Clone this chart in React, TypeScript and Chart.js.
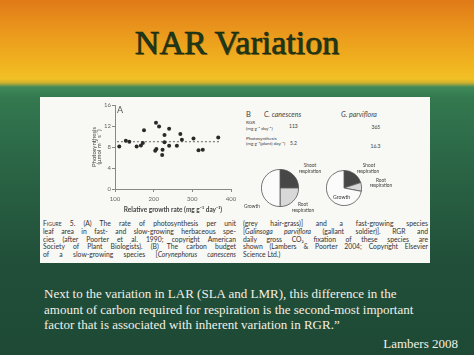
import React, { useEffect, useRef } from 'react';
import { Chart, registerables } from 'chart.js';

Chart.register(...registerables);

// ---- Panel A data ----
const rgrValues = [111, 128, 137, 156, 167, 172, 175, 204, 207, 206, 214, 223, 222, 228, 228, 240, 240, 260, 269, 273, 303, 316, 327, 367];
const photosynthesisValues = [8.1, 9.2, 9.0, 8.1, 8.3, 8.75, 11.2, 7.3, 7.6, 12.6, 11.9, 7.5, 6.5, 10.3, 8.9, 11.5, 8.25, 8.25, 10.5, 9.4, 9.6, 7.4, 7.5, 9.8];
const meanLineX = [105, 370];
const meanLineY = [9, 9];
const xTicks = [100, 200, 300, 400];
const yTicks = [0, 4, 8, 12, 16];

// ---- Panel B data ----
const pieLabels = ['Shoot respiration', 'Root respiration', 'Growth'];
const canescensBudget = [25, 25, 50];
const parvifloraBudget = [20, 8, 72];
const speciesNames = ['C. canescens', 'G. parviflora'];
const speciesRGR = ['113', '365'];
const speciesPhoto = ['5.2', '16.3'];

const SANS = 'Lato, "Open Sans", sans-serif';
const SERIF = '"Liberation Serif", serif';

function ScatterA() {
  const ref = useRef<HTMLCanvasElement>(null);
  useEffect(() => {
    const chart = new Chart(ref.current!, {
      type: 'scatter',
      data: {
        datasets: [
          {
            data: rgrValues.map((x, i) => ({ x, y: photosynthesisValues[i] })),
            backgroundColor: '#2a2a2a',
            borderColor: '#2a2a2a',
            pointRadius: 2,
            pointBorderWidth: 0,
          },
          {
            data: meanLineX.map((x, i) => ({ x, y: meanLineY[i] })),
            showLine: true,
            borderColor: '#555',
            borderWidth: 0.9,
            borderDash: [2, 2],
            pointRadius: 0,
          } as any,
        ],
      },
      options: {
        animation: false,
        responsive: false,
        devicePixelRatio: 1,
        plugins: { legend: { display: false }, tooltip: { enabled: false } },
        layout: { padding: { left: 0, right: 13, top: 7, bottom: 0 } },
        scales: {
          x: {
            type: 'linear',
            min: 100,
            max: 400,
            afterBuildTicks: (s: any) => { s.ticks = xTicks.map((v) => ({ value: v })); },
            ticks: { font: { size: 6, family: SANS }, color: '#666', padding: 3, maxRotation: 0 },
            grid: { drawOnChartArea: false, tickLength: 3, color: '#888' },
            border: { color: '#888' },
            title: {
              display: true,
              text: 'Relative growth rate (mg g⁻¹ day⁻¹)',
              font: { size: 6.5, weight: 'bold', family: SANS },
              color: '#444',
              padding: { top: 0, bottom: 2 },
            },
            afterFit: (s: any) => { s.height = 27; },
          },
          y: {
            type: 'linear',
            min: 0,
            max: 16,
            afterBuildTicks: (s: any) => { s.ticks = yTicks.map((v) => ({ value: v })); },
            ticks: { font: { size: 6, family: SANS }, color: '#666', padding: 1 },
            grid: { drawOnChartArea: false, tickLength: 3, color: '#888' },
            border: { color: '#888' },
            title: {
              display: true,
              text: ['Photosynthesis', '(μmol m⁻² s⁻¹)'],
              font: { size: 6, family: SANS, lineHeight: 0.9 },
              color: '#444',
              padding: { top: 7, bottom: 0 },
            },
            afterFit: (s: any) => { s.width = 31; },
          },
        },
      },
    });
    return () => chart.destroy();
  }, []);
  return <canvas ref={ref} width={160} height={118} style={{ position: 'absolute', left: 84, top: 98 }} />;
}

function BudgetPie({ data, size, left, top }: { data: number[]; size: number; left: number; top: number }) {
  const ref = useRef<HTMLCanvasElement>(null);
  useEffect(() => {
    const chart = new Chart(ref.current!, {
      type: 'pie',
      data: {
        labels: pieLabels,
        datasets: [
          {
            data,
            backgroundColor: ['#474747', '#d8d8d8', '#fbfbfb'],
            borderColor: '#555',
            borderWidth: 0.8,
          },
        ],
      },
      options: {
        animation: false,
        responsive: false,
        devicePixelRatio: 1,
        plugins: { legend: { display: false }, tooltip: { enabled: false } },
        layout: { padding: 0 },
      },
    });
    return () => chart.destroy();
  }, []);
  return <canvas ref={ref} width={size} height={size} style={{ position: 'absolute', left, top }} />;
}

function Txt({ x, cy, size, children, style, right }: any) {
  const s: React.CSSProperties = {
    position: 'absolute',
    top: cy - size * 0.6,
    fontSize: size,
    lineHeight: `${size * 1.2}px`,
    whiteSpace: 'nowrap',
    fontFamily: SANS,
    color: '#3a3a3a',
    ...style,
  };
  if (right !== undefined) s.right = 474 - right;
  else s.left = x;
  return <div style={s}>{children}</div>;
}

const leftCaption = [
  <><span style={{ fontVariant: 'small-caps' }}>Figure</span> 5. (A) The rate of photosynthesis per unit</>,
  <>leaf area in fast- and slow-growing herbaceous spe-</>,
  <>cies (after Poorter et al. 1990; copyright American</>,
  <>Society of Plant Biologists). (B) The carbon budget</>,
  <>of a slow-growing species [<i>Corynephorus canescens</i></>,
];
const rightCaption = [
  <>(grey hair-grass)] and a fast-growing species</>,
  <>[<i>Galinsoga parviflora</i> (gallant soldier)]. RGR and</>,
  <>daily gross CO₂ fixation of these species are</>,
  <>shown (Lambers &amp; Poorter 2004; Copyright Elsevier</>,
  <>Science Ltd.)</>,
];
const captionY = [223.3, 231, 238.8, 246.6, 254.3];

export default function App() {
  useEffect(() => {
    document.body.style.margin = '0';
  }, []);
  return (
    <div
      style={{
        position: 'fixed',
        left: 0,
        top: 0,
        width: 474,
        height: 355,
        overflow: 'hidden',
        background:
          'linear-gradient(to bottom, #e07a18 0px, #ea961c 30px, #f0b21f 62px, #f2c026 79px, #c9b030 83px, #3f8a58 87px, #33784f 98px, #2a6445 170px, #214f39 260px, #1e4a35 355px)',
      }}
    >
      {/* Title */}
      <div
        style={{
          position: 'absolute',
          left: 0,
          width: 474,
          top: 26,
          textAlign: 'center',
          fontFamily: SERIF,
          fontSize: 34,
          lineHeight: '34px',
          color: '#1d3a1c',
          WebkitTextStroke: '0.6px #14260f',
          textShadow: '1px 1px 0 rgba(110,80,10,0.7)',
        } as any}
      >
        NAR Variation
      </div>

      {/* Figure panel */}
      <div style={{ position: 'absolute', left: 40, top: 97, width: 390, height: 166, background: '#f8f8f5' }} />

      <ScatterA />
      <Txt x={117} cy={110} size={9} style={{ color: '#555' }}>A</Txt>

      {/* Panel B header and table */}
      <Txt x={246} cy={114} size={7.5} style={{ color: '#444' }}>B</Txt>
      <Txt x={264} cy={114} size={7} style={{ fontStyle: 'italic', color: '#444' }}>{speciesNames[0]}</Txt>
      <Txt x={341} cy={114} size={7} style={{ fontStyle: 'italic', color: '#444' }}>{speciesNames[1]}</Txt>
      <Txt x={246} cy={122.5} size={4.6}>RGR</Txt>
      <Txt x={246} cy={128.3} size={4.6}>(mg g⁻¹ day⁻¹)</Txt>
      <Txt x={289} cy={125.7} size={5}>{speciesRGR[0]}</Txt>
      <Txt x={371.5} cy={127} size={5}>{speciesRGR[1]}</Txt>
      <Txt x={246} cy={138.3} size={4.6}>Photosynthesis</Txt>
      <Txt x={246} cy={144} size={4.6}>(mg g⁻¹(plant) day⁻¹)</Txt>
      <Txt x={290} cy={143.3} size={5}>{speciesPhoto[0]}</Txt>
      <Txt x={370.5} cy={145.7} size={5}>{speciesPhoto[1]}</Txt>

      <BudgetPie data={canescensBudget} size={38} left={261} top={169} />
      <BudgetPie data={parvifloraBudget} size={36} left={326} top={170} />

      {/* Pie labels */}
      <Txt x={298} cy={165.7} size={4.8} style={{ width: 24, textAlign: 'center' }}>Shoot</Txt>
      <Txt x={298} cy={171.8} size={4.8} style={{ width: 24, textAlign: 'center' }}>respiration</Txt>
      <Txt x={291} cy={205} size={4.8} style={{ width: 24, textAlign: 'center' }}>Root</Txt>
      <Txt x={291} cy={210.8} size={4.8} style={{ width: 24, textAlign: 'center' }}>respiration</Txt>
      <Txt x={244} cy={207} size={4.8}>{pieLabels[2]}</Txt>
      <Txt x={357} cy={165.7} size={4.8} style={{ width: 24, textAlign: 'center' }}>Shoot</Txt>
      <Txt x={356} cy={171.8} size={4.8} style={{ width: 24, textAlign: 'center' }}>respiration</Txt>
      <Txt x={369} cy={180.5} size={4.8} style={{ width: 24, textAlign: 'center' }}>Root</Txt>
      <Txt x={369} cy={186} size={4.8} style={{ width: 24, textAlign: 'center' }}>respiration</Txt>
      <Txt x={333} cy={196.7} size={5.2} style={{ color: '#333' }}>{pieLabels[2]}</Txt>

      {/* Caption */}
      {leftCaption.map((l, i) => (
        <div
          key={'l' + i}
          style={{
            position: 'absolute',
            left: 43,
            width: 193,
            top: captionY[i] - 4.2,
            fontFamily: SANS,
            fontSize: 6.8,
            lineHeight: '8px',
            color: '#333',
            textAlign: 'justify',
            textAlignLast: 'justify',
            whiteSpace: 'nowrap',
          }}
        >
          {l}
        </div>
      ))}
      {rightCaption.map((l, i) => (
        <div
          key={'r' + i}
          style={{
            position: 'absolute',
            left: 243,
            width: 185,
            top: captionY[i] - 4.2,
            fontFamily: SANS,
            fontSize: 6.8,
            lineHeight: '8px',
            color: '#333',
            textAlign: 'justify',
            textAlignLast: i === rightCaption.length - 1 ? 'left' : 'justify',
            whiteSpace: 'nowrap',
          }}
        >
          {l}
        </div>
      ))}

      {/* Slide text */}
      <div
        style={{
          position: 'absolute',
          left: 44,
          top: 286,
          fontFamily: SERIF,
          fontSize: 13,
          lineHeight: '15.5px',
          color: '#f3f0e6',
          whiteSpace: 'nowrap',
        }}
      >
        <div>Next to the variation in LAR (SLA and LMR), this difference in the</div>
        <div>amount of carbon required for respiration is the second-most important</div>
        <div>factor that is associated with inherent variation in RGR.”</div>
      </div>
      <div
        style={{
          position: 'absolute',
          right: 474 - 458,
          top: 336,
          fontFamily: SERIF,
          fontSize: 13,
          lineHeight: '15.5px',
          color: '#f3f0e6',
          whiteSpace: 'nowrap',
        }}
      >
        Lambers 2008
      </div>
    </div>
  );
}
